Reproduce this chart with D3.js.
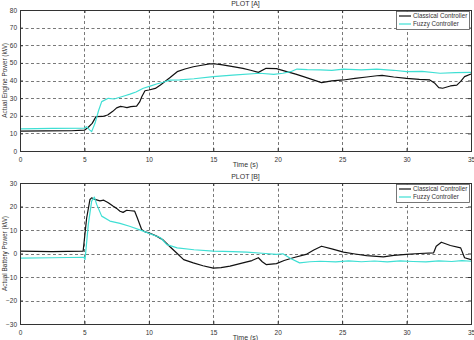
<!DOCTYPE html>
<html>
<head>
<meta charset="utf-8">
<script src="https://cdn.jsdelivr.net/npm/d3@7"></script>
<style>
  html, body { margin: 0; padding: 0; background: #fff; }
  svg { display: block; font-family: "Liberation Sans", Arial, Helvetica, sans-serif; }
</style>
</head>
<body>
<svg id="chart" width="474" height="340"></svg>
<script>
// Time axis ticks shared by both plots
const timeTicks = [0, 5, 10, 15, 20, 25, 30, 35];
const engineTicks = [0, 10, 20, 30, 40, 50, 60, 70, 80];
const batteryTicks = [-30, -20, -10, 0, 10, 20, 30];
const seriesNames = ["Classical Controller", "Fuzzy Controller"];

// PLOT [A] – engine power (kW)
const engineClassicalT = [0, 2, 4, 5, 5.3, 5.6, 5.9, 6.4, 6.8, 7.2, 7.5, 7.8, 8.0, 8.3, 8.6, 9.05, 9.3, 9.45, 9.7, 10.0, 10.5, 10.9, 11.6, 12.2, 12.8, 13.45, 14.0, 14.7, 15.0, 15.6, 16.3, 17.3, 17.9, 18.5, 19.1, 19.9, 20.7, 21.4, 22.0, 22.7, 23.4, 24.2, 25.1, 26.0, 26.9, 27.7, 28.1, 29.0, 30.0, 31.0, 31.8, 32.2, 32.5, 32.8, 33.4, 33.9, 34.2, 34.5, 35];
const engineClassicalV = [11.3, 11.4, 11.5, 11.8, 13.5, 15.7, 19.5, 19.6, 20.4, 22.5, 24.5, 25.3, 25.1, 24.6, 25.2, 25.5, 28, 30.8, 34.2, 34.6, 35.5, 37.4, 41.4, 45, 46.5, 47.8, 48.5, 49.4, 49.5, 49, 48.2, 46.9, 45.8, 44.6, 46.9, 46.7, 45, 43.6, 42.2, 40.5, 38.8, 39.8, 40.3, 41.2, 42, 42.7, 42.9, 42, 41.2, 40.6, 40.3, 38.4, 36, 35.6, 36.9, 37.4, 39.5, 42.2, 43.7];
const engineFuzzyT = [0, 2.5, 5, 5.17, 5.4, 5.56, 5.82, 6.1, 6.34, 6.85, 7.3, 7.76, 8.2, 8.54, 9.0, 9.57, 10.1, 10.6, 11.1, 11.64, 12.4, 13.5, 15, 16.5, 18.6, 19.7, 20.4, 21.0, 21.5, 22.3, 23.3, 24.2, 25.1, 26.5, 27.7, 29.0, 30, 31.2, 32.6, 33.8, 35];
const engineFuzzyV = [12.5, 12.8, 13.0, 13.8, 12, 11, 15.7, 23, 28, 29.9, 29.5, 30.5, 31.5, 32.3, 33.5, 35.6, 36.8, 38, 39, 40.2, 40.3, 41, 42.2, 43, 44.1, 43.5, 44.1, 45, 46.5, 46.2, 46, 45.7, 46.4, 46, 46.4, 45.8, 45, 45.2, 44.1, 44.5, 44.6];

// PLOT [B] – battery power (kW)
const batteryClassicalT = [0, 2.5, 4.9, 5.17, 5.43, 5.56, 5.82, 6.2, 6.5, 6.85, 7.24, 7.5, 7.76, 8.0, 8.28, 8.6, 8.9, 9.1, 9.44, 9.7, 10.0, 10.6, 11.1, 11.6, 12.2, 12.7, 13.45, 14.2, 15.0, 15.6, 16.3, 17.3, 18.0, 18.5, 18.8, 19.1, 19.9, 20.5, 21.2, 22.2, 22.8, 23.4, 24.2, 25.1, 26.0, 26.9, 28.2, 29.0, 30, 31.0, 32.1, 32.3, 32.7, 33.4, 34.2, 34.5, 35];
const batteryClassicalV = [1, 0.8, 1, 15, 23, 23.7, 23, 22.4, 22.7, 21.6, 20.1, 19.2, 18, 17.5, 18.4, 18.2, 18, 15.2, 10.2, 9.2, 8.8, 7.4, 5.8, 3.1, 0, -2.6, -4, -5.2, -6.2, -6, -5.4, -4, -3, -1.8, -3.5, -4.7, -4.3, -3, -1.8, -0.4, 1.5, 3.1, 2, 0.6, -0.2, -0.9, -1.4, -0.8, -0.4, 0, 0.3, 3.1, 4.8, 3.4, 2.4, -1.8, -2.6];
const batteryFuzzyT = [0, 2.5, 4.95, 5.05, 5.3, 5.56, 5.77, 5.95, 6.34, 6.98, 7.76, 8.5, 9.57, 10.9, 11.4, 12.2, 13.5, 15, 16.5, 17.6, 18.8, 19.9, 20.4, 21.0, 21.7, 22.5, 23.3, 24.5, 25.5, 26.5, 27.5, 28.5, 29.5, 30.5, 31.5, 32.5, 33.5, 34.3, 35];
const batteryFuzzyV = [-2, -1.8, -1.6, -2.5, 12.3, 22.3, 24, 20.9, 15.9, 13.8, 12.8, 11.6, 9.5, 6.7, 3.8, 2.4, 1.6, 1, 0.8, 0.6, 0.1, -0.4, -0.1, -2.1, -4, -3.5, -3.3, -3.6, -3.1, -3.5, -3.2, -3.6, -3.1, -3.4, -3.6, -3.1, -3.4, -3.0, -3.3];

const colors = ["#111111", "#3fdfd4"];
const svg = d3.select("#chart");

function zip(ts, vs) { return ts.map((t, i) => ({ t, v: vs[i] })); }

function drawPanel(cfg) {
  const x = d3.scaleLinear().domain([0, 35]).range([cfg.left, cfg.right]);
  const y = d3.scaleLinear().domain(cfg.domain).range([cfg.bottom, cfg.top]);
  const g = svg.append("g");

  // dashed grid
  g.append("g").selectAll("line").data(timeTicks.slice(1, -1)).join("line")
    .attr("x1", d => Math.round(x(d)) + 0.5).attr("x2", d => Math.round(x(d)) + 0.5)
    .attr("y1", cfg.top).attr("y2", cfg.bottom)
    .attr("stroke", "#555").attr("stroke-width", 0.8).attr("stroke-dasharray", "3,2.5");
  g.append("g").selectAll("line").data(cfg.ticks.slice(1, -1)).join("line")
    .attr("y1", d => Math.round(y(d)) + 0.5).attr("y2", d => Math.round(y(d)) + 0.5)
    .attr("x1", cfg.left).attr("x2", cfg.right)
    .attr("stroke", "#555").attr("stroke-width", 0.8).attr("stroke-dasharray", "3,2.5");

  // axes with inward ticks on all four sides
  const axB = d3.axisBottom(x).tickValues(timeTicks).tickSize(-3).tickPadding(6).tickFormat(d3.format("d"));
  const axT = d3.axisTop(x).tickValues(timeTicks).tickSize(-3).tickFormat("");
  const axL = d3.axisLeft(y).tickValues(cfg.ticks).tickSize(-3).tickPadding(3).tickFormat(d3.format("d"));
  const axR = d3.axisRight(y).tickValues(cfg.ticks).tickSize(-3).tickFormat("");
  const styleAxis = sel => {
    sel.select(".domain").attr("stroke", "#333");
    sel.selectAll(".tick line").attr("stroke", "#333");
    sel.selectAll("text").attr("font-size", 6.5).attr("fill", "#333");
  };
  g.append("g").attr("transform", `translate(0,${cfg.bottom})`).call(axB).call(styleAxis);
  g.append("g").attr("transform", `translate(0,${cfg.top})`).call(axT).call(styleAxis);
  g.append("g").attr("transform", `translate(${cfg.left},0)`).call(axL).call(styleAxis);
  g.append("g").attr("transform", `translate(${cfg.right},0)`).call(axR).call(styleAxis);

  // series lines
  const line = d3.line().x(d => x(d.t)).y(d => y(d.v));
  cfg.series.forEach((s, i) => {
    g.append("path").datum(s).attr("d", line)
      .attr("fill", "none").attr("stroke", colors[i])
      .attr("stroke-width", 1.2).attr("stroke-linejoin", "round");
  });
  // frame drawn over the data
  g.append("rect").attr("x", cfg.left + 0.5).attr("y", cfg.top + 0.5)
    .attr("width", cfg.right - cfg.left).attr("height", cfg.bottom - cfg.top)
    .attr("fill", "none").attr("stroke", "#333").attr("stroke-width", 1);

  // titles
  const cx = (cfg.left + cfg.right) / 2;
  g.append("text").attr("x", cx).attr("y", cfg.top - 4).attr("text-anchor", "middle")
    .attr("font-size", 7).attr("fill", "#333").text(cfg.title);
  g.append("text").attr("x", cx).attr("y", cfg.bottom + 16).attr("text-anchor", "middle")
    .attr("font-size", 7).attr("fill", "#333").text("Time (s)");
  g.append("text").attr("transform", `translate(7,${(cfg.top + cfg.bottom) / 2}) rotate(-90)`)
    .attr("text-anchor", "middle").attr("font-size", 6.4).attr("fill", "#333").text(cfg.ylabel);

  // legend
  const lg = g.append("g").attr("transform", `translate(${cfg.legendX},${cfg.legendY})`);
  lg.append("rect").attr("x", 0.5).attr("y", 0.5).attr("width", 73).attr("height", 18)
    .attr("fill", "#fff").attr("stroke", "#555").attr("stroke-width", 0.8);
  seriesNames.forEach((name, i) => {
    const yy = 5 + i * 8;
    lg.append("line").attr("x1", 3).attr("x2", 15).attr("y1", yy).attr("y2", yy)
      .attr("stroke", colors[i]).attr("stroke-width", 1.2);
    lg.append("text").attr("x", 17).attr("y", yy + 2.3).attr("font-size", 6.3)
      .attr("fill", "#333").text(name);
  });
}

drawPanel({
  left: 20, right: 471, top: 10, bottom: 151, domain: [0, 80], ticks: engineTicks,
  title: "PLOT [A]", ylabel: "Actual Engine Power (kW)",
  series: [zip(engineClassicalT, engineClassicalV), zip(engineFuzzyT, engineFuzzyV)],
  legendX: 396, legendY: 11
});
drawPanel({
  left: 20, right: 471, top: 183, bottom: 324, domain: [-30, 30], ticks: batteryTicks,
  title: "PLOT [B]", ylabel: "Actual Battery Power (kW)",
  series: [zip(batteryClassicalT, batteryClassicalV), zip(batteryFuzzyT, batteryFuzzyV)],
  legendX: 396, legendY: 184
});
</script>
</body>
</html>
